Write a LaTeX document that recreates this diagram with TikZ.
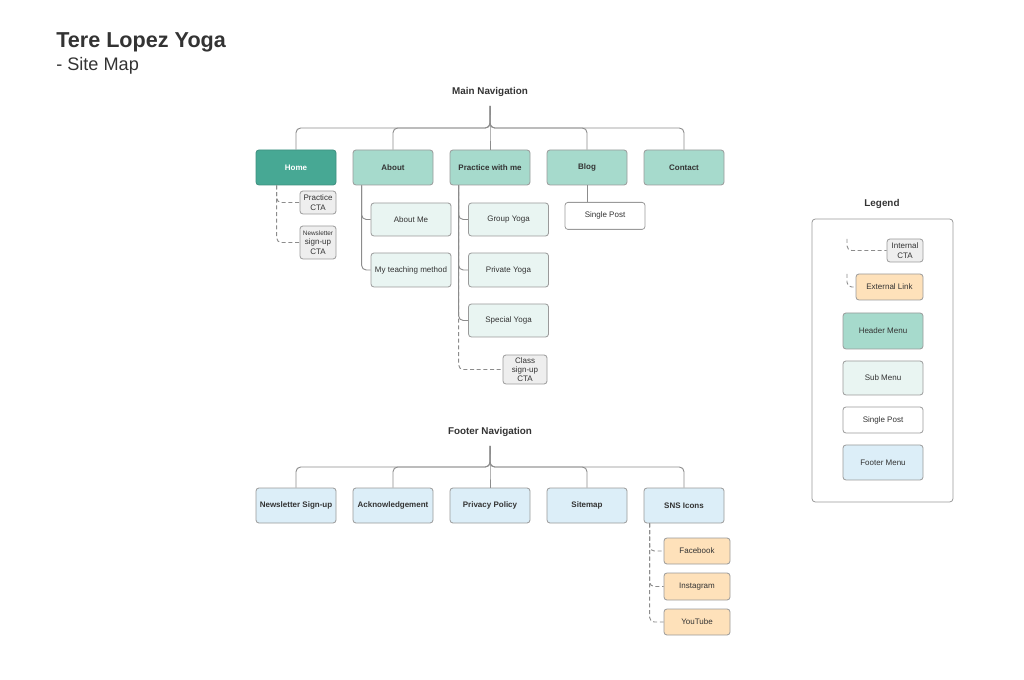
\documentclass[tikz,border=0pt]{standalone}
\usepackage{fontspec}
\setmainfont{Liberation Sans}
\usetikzlibrary{calc}
\definecolor{txt}{HTML}{333333}
\definecolor{bord}{HTML}{9A9A9A}
\definecolor{lne}{HTML}{8C8C8C}
\definecolor{homef}{HTML}{47A894}
\definecolor{homeb}{HTML}{3E8F7E}
\definecolor{headf}{HTML}{A6DACC}
\definecolor{subf}{HTML}{E9F5F2}
\definecolor{ctaf}{HTML}{EEEEEE}
\definecolor{extf}{HTML}{FEE1BA}
\definecolor{footf}{HTML}{DCEEF8}
\tikzset{
  mw/.style={minimum width=#1*0.75pt},
  mh/.style={minimum height=#1*0.75pt},
  basebox/.style={draw=bord, line width=0.6pt, rounded corners=2.2pt, inner sep=0pt, align=center, text=txt, font=\fontsize{6}{7}\selectfont},
  hdr/.style={basebox, fill=headf, font=\fontsize{6}{7}\selectfont\bfseries, mw=80, mh=35},
  homebox/.style={hdr, fill=homef, draw=homeb, text=white},
  ftr/.style={basebox, fill=footf, font=\fontsize{6}{7}\selectfont\bfseries, mw=80, mh=35},
  sub/.style={basebox, fill=subf, mw=80},
  cta/.style={basebox, fill=ctaf},
  ext/.style={basebox, fill=extf},
  post/.style={basebox, fill=white, mw=80},
  conn/.style={draw=lne, line width=0.7pt, rounded corners=3.5pt},
  dconn/.style={conn, dash pattern=on 3pt off 2pt},
  ttl/.style={font=\fontsize{7.4}{8}\selectfont\bfseries, text=txt, inner sep=0pt, anchor=base}
}
\begin{document}
\begin{tikzpicture}[x=0.75pt,y=-0.75pt]
\useasboundingbox (0,0) rectangle (1024,680);
% titles
\node[anchor=base west, inner sep=0pt, text=txt, font=\fontsize{16.2}{18}\selectfont\bfseries] (title) at (56,47.5) {Tere Lopez Yoga};
\node[anchor=base west, inner sep=0pt, text=txt, font=\fontsize{13.6}{15}\selectfont] (subtitle) at (56,70.5) {- Site Map};
\node[ttl] (mainnav) at (490,95) {Main Navigation};
\node[ttl] (footnav) at (490,435) {Footer Navigation};
\node[ttl] (legendt) at (882,207) {Legend};
\coordinate (mtop) at (490,106);
\coordinate (ftop) at (490,446);

% main navigation
\node[homebox] (home) at (296,167.5) {Home};
\node[hdr] (about) at (393,167.5) {About};
\node[hdr] (practice) at (490,167.5) {Practice with me};
\node[hdr] (blog) at (587,167.5) {Blog};
\node[hdr] (contact) at (684,167.5) {Contact};
\foreach \n in {home,about,practice,blog,contact}
  \draw[conn] (mtop) -- ++(0,22) -| (\n.north);

% home children
\node[cta, mw=36, mh=23] (pcta) at (318,202.5) {Practice\\CTA};
\node[cta, mw=36, mh=33] (ncta) at (318,242.5) {{\fontsize{4.8}{7}\selectfont Newsletter}\\sign-up\\CTA};
\draw[dconn] ($(home.south west)+(21,0)$) |- (pcta.west);
\draw[dconn] ($(home.south west)+(21,0)$) |- (ncta.west);

% about children
\node[sub, mh=33] (aboutme) at (411,219.5) {About Me};
\node[sub, mh=34] (teach) at (411,270) {My teaching method};
\draw[conn] ($(about.south west)+(9,0)$) |- (aboutme.west);
\draw[conn] ($(about.south west)+(9,0)$) |- (teach.west);

% practice children
\node[sub, mh=33] (group) at (508.5,219.5) {Group Yoga};
\node[sub, mh=34] (private) at (508.5,270) {Private Yoga};
\node[sub, mh=33] (special) at (508.5,320.5) {Special Yoga};
\node[cta, mw=44, mh=29] (classcta) at (525,369.5) {Class\\sign-up\\CTA};
\draw[dconn] ($(practice.south west)+(9,0)$) |- (classcta.west);
\draw[conn] ($(practice.south west)+(9,0)$) |- (group.west);
\draw[conn] ($(practice.south west)+(9,0)$) |- (private.west);
\draw[conn] ($(practice.south west)+(9,0)$) |- (special.west);

% blog child
\node[post, mh=27, anchor=north] (single) at (605,202) {Single Post};
\draw[conn] (blog.south) -- (blog.south |- single.north);

% footer navigation
\node[ftr] (news) at (296,505.5) {Newsletter Sign-up};
\node[ftr] (ack) at (393,505.5) {Acknowledgement};
\node[ftr] (priv) at (490,505.5) {Privacy Policy};
\node[ftr] (sitemap) at (587,505.5) {Sitemap};
\node[ftr] (sns) at (684,505.5) {SNS Icons};
\foreach \n in {news,ack,priv,sitemap,sns}
  \draw[conn] (ftop) -- ++(0,21) -| (\n.north);

\node[ext, mw=66, mh=26] (fb) at (697,551) {Facebook};
\node[ext, mw=66, mh=27] (ig) at (697,586.5) {Instagram};
\node[ext, mw=66, mh=26] (yt) at (697,622) {YouTube};
\foreach \n in {fb,ig,yt}
  \draw[dconn] ($(sns.south west)+(6,0)$) |- (\n.west);

% legend
\node[draw=bord, line width=0.6pt, rounded corners=2.5pt, mw=141, mh=283, inner sep=0pt] (legend) at (882.5,360.5) {};
\node[cta, mw=36, mh=23] (lint) at (905,250.5) {Internal\\CTA};
\node[ext, mw=67, mh=26] (lext) at (889.5,287) {External Link};
\node[basebox, fill=headf, mw=80, mh=36] (lhead) at (883,331) {Header Menu};
\node[sub, mh=34] (lsub) at (883,378) {Sub Menu};
\node[post, mh=26] (lsingle) at (883,420) {Single Post};
\node[basebox, fill=footf, mw=80, mh=35] (lfoot) at (883,462.5) {Footer Menu};
\coordinate (lintc) at (847,239);
\coordinate (lextc) at (847,274);
\draw[dconn] (lintc) |- (lint.west);
\draw[dconn] (lextc) |- (lext.west);
\end{tikzpicture}
\end{document}
